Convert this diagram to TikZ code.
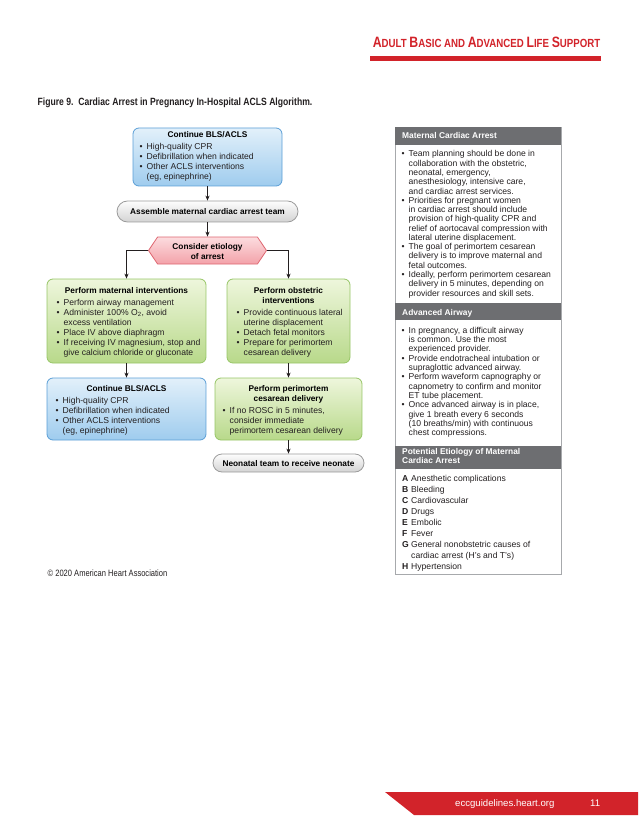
\documentclass[tikz,border=0pt]{standalone}
\usepackage{fontspec}
\setmainfont{Liberation Sans}
\newfontfamily\condf[FakeStretch=0.82]{Liberation Sans}
\usetikzlibrary{shapes.symbols,shapes.misc,arrows.meta,calc}

\definecolor{ahared}{HTML}{D2232A}
\definecolor{bluetop}{HTML}{E2F0FA}
\definecolor{bluebot}{HTML}{9FCCEE}
\definecolor{bluebd}{HTML}{5A9ED6}
\definecolor{greentop}{HTML}{EEF6DC}
\definecolor{greenbot}{HTML}{B8D98A}
\definecolor{greenbd}{HTML}{96C566}
\definecolor{graytop}{HTML}{FDFDFD}
\definecolor{graybot}{HTML}{D3D3D3}
\definecolor{graybd}{HTML}{9C9C9C}
\definecolor{pinktop}{HTML}{FCDCDF}
\definecolor{pinkbot}{HTML}{F3A2A9}
\definecolor{pinkbd}{HTML}{DE6670}
\definecolor{bandgray}{HTML}{6D6E71}
\definecolor{panelbd}{HTML}{A7A9AC}
\definecolor{txtdark}{HTML}{231F20}
\definecolor{linec}{HTML}{231F20}

\newcommand\bl[1]{\makebox[7pt][l]{\textbullet}#1\par}
\newcommand\cl[1]{\hspace*{7pt}#1\par}
\newcommand\lt[2]{\makebox[9pt][l]{\bfseries #1}#2\par}
\newcommand\bigc[1]{{\fontsize{15}{15}\selectfont #1}}
\newcommand\smc[1]{{\fontsize{11.8}{15}\selectfont #1}}

\tikzset{
  box/.style={draw, line width=0.8pt, rounded corners=6pt, inner sep=0pt},
  bluebox/.style={box, draw=bluebd, top color=bluetop, bottom color=bluebot},
  greenbox/.style={box, draw=greenbd, top color=greentop, bottom color=greenbot},
  pill/.style={draw=graybd, line width=0.8pt, rounded rectangle, top color=graytop, bottom color=graybot, inner sep=0pt},
  hexa/.style={signal, signal to=west and east, signal pointer angle=112, draw=pinkbd, line width=0.8pt, top color=pinktop, bottom color=pinkbot, inner sep=0pt},
  ttl/.style={inner sep=0pt, anchor=base, font=\fontsize{8.3}{10}\selectfont\bfseries, text=black},
  bultxt/.style={inner sep=0pt, anchor=base west, font=\fontsize{8.6}{10}\selectfont, text=txtdark},
  paneltxt/.style={inner sep=0pt, anchor=base west, text=txtdark},
  band/.style={fill=bandgray, inner sep=0pt, anchor=north west, minimum width=166pt},
  bandtxt/.style={inner sep=0pt, anchor=base west, font=\fontsize{8.4}{9}\selectfont\bfseries, text=white},
  arr/.style={draw=linec, line width=0.8pt, -{Stealth[length=5pt,width=4.2pt]}},
}

\begin{document}
\begin{tikzpicture}[x=1pt,y=-1pt]
\useasboundingbox (0,0) rectangle (638,826);

% page header
\node[anchor=base east, inner sep=0pt, text=ahared, font=\condf\bfseries\fontsize{11.8}{15}\selectfont] (hdr) at (600.5,48)
  {\bigc{A}\smc{DULT} \bigc{B}\smc{ASIC} \smc{AND} \bigc{A}\smc{DVANCED} \bigc{L}\smc{IFE} \bigc{S}\smc{UPPORT}};
\fill[ahared] (369.5,56) rectangle (600.5,61);

% figure title
\node[anchor=base west, inner sep=0pt, font=\condf\bfseries\fontsize{10.5}{12}\selectfont, text=txtdark] (fig) at (37.5,106)
  {Figure 9.\ \ Cardiac Arrest in Pregnancy In-Hospital ACLS Algorithm.};

% flowchart boxes
\node[bluebox, minimum width=149pt, minimum height=58pt] (b1) at (207.5,157) {};
\node[pill, minimum width=181pt, minimum height=21pt] (asm) at (207.5,211.5) {};
\node[hexa, minimum width=118pt, minimum height=27pt] (hex) at (207.5,250.5) {};
\node[greenbox, minimum width=159pt, minimum height=84pt] (g1) at (126.5,321) {};
\node[greenbox, minimum width=123pt, minimum height=84pt] (g2) at (288.5,321) {};
\node[bluebox, minimum width=159pt, minimum height=62pt] (b2) at (126.5,409) {};
\node[greenbox, minimum width=147pt, minimum height=62pt] (g3) at (288.5,409) {};
\node[pill, minimum width=151pt, minimum height=18pt] (neo) at (288.5,463) {};

% texts
\node[ttl] (b1t) at (207.5,138) {Continue BLS/ACLS};
\node[bultxt] (b1b) at (139.5,150) {\begin{minipage}[t]{200pt}
\bl{High-quality CPR}
\bl{Defibrillation when indicated}
\bl{Other ACLS interventions}
\cl{(eg, epinephrine)}
\end{minipage}};

\node[ttl] (asmt) at (207.5,214.5) {Assemble maternal cardiac arrest team};

\node[ttl] (hext) at (207.5,249) {\begin{minipage}[t]{120pt}\centering Consider etiology\\of arrest\end{minipage}};

\node[ttl] (g1t) at (126.5,293) {Perform maternal interventions};
\node[bultxt] (g1b) at (56.5,305) {\begin{minipage}[t]{200pt}
\bl{Perform airway management}
\bl{Administer 100\% O\textsubscript{2}, avoid}
\cl{excess ventilation}
\bl{Place IV above diaphragm}
\bl{If receiving IV magnesium, stop and}
\cl{give calcium chloride or gluconate}
\end{minipage}};

\node[ttl] (g2t) at (288.5,293) {\begin{minipage}[t]{120pt}\centering Perform obstetric\\interventions\end{minipage}};
\node[bultxt] (g2b) at (236.5,315) {\begin{minipage}[t]{200pt}
\bl{Provide continuous lateral}
\cl{uterine displacement}
\bl{Detach fetal monitors}
\bl{Prepare for perimortem}
\cl{cesarean delivery}
\end{minipage}};

\node[ttl] (b2t) at (126.5,391) {Continue BLS/ACLS};
\node[bultxt] (b2b) at (55.5,403) {\begin{minipage}[t]{200pt}
\bl{High-quality CPR}
\bl{Defibrillation when indicated}
\bl{Other ACLS interventions}
\cl{(eg, epinephrine)}
\end{minipage}};

\node[ttl] (g3t) at (288.5,391) {\begin{minipage}[t]{140pt}\centering Perform perimortem\\cesarean delivery\end{minipage}};
\node[bultxt] (g3b) at (222.5,413) {\begin{minipage}[t]{200pt}
\bl{If no ROSC in 5 minutes,}
\cl{consider immediate}
\cl{perimortem cesarean delivery}
\end{minipage}};

\node[ttl] (neot) at (288.5,466) {Neonatal team to receive neonate};

% connectors
\draw[arr] (b1) -- (asm);
\draw[arr] (asm) -- (hex);
\draw[arr] (hex.west) -| (g1.north);
\draw[arr] (hex.east) -| (g2.north);
\draw[arr] (g1) -- (b2);
\draw[arr] (g2) -- (g3);
\draw[arr] (g3) -- (neo);

% right panel
\node[draw=panelbd, line width=0.7pt, anchor=north west, minimum width=166pt, minimum height=447pt, inner sep=0pt] (panel) at (395,127) {};
\node[band, minimum height=17.5pt] (band1) at (395,127) {};
\node[band, minimum height=17pt] (band2) at (395,302.5) {};
\node[band, minimum height=23pt] (band3) at (395,445.5) {};
\node[bandtxt] (band1t) at (402,139) {Maternal Cardiac Arrest};
\node[bandtxt] (band2t) at (402,315) {Advanced Airway};
\node[bandtxt] (band3t) at (402,454.5) {\begin{minipage}[t]{160pt}Potential Etiology of Maternal\\Cardiac Arrest\end{minipage}};

\node[paneltxt, font=\fontsize{8.6}{9.27}\selectfont] (sec1) at (401.5,157) {\begin{minipage}[t]{200pt}
\bl{Team planning should be done in}
\cl{collaboration with the obstetric,}
\cl{neonatal, emergency,}
\cl{anesthesiology, intensive care,}
\cl{and cardiac arrest services.}
\bl{Priorities for pregnant women}
\cl{in cardiac arrest should include}
\cl{provision of high-quality CPR and}
\cl{relief of aortocaval compression with}
\cl{lateral uterine displacement.}
\bl{The goal of perimortem cesarean}
\cl{delivery is to improve maternal and}
\cl{fetal outcomes.}
\bl{Ideally, perform perimortem cesarean}
\cl{delivery in 5 minutes, depending on}
\cl{provider resources and skill sets.}
\end{minipage}};

\node[paneltxt, font=\fontsize{8.6}{9.36}\selectfont] (sec2) at (401.5,333) {\begin{minipage}[t]{200pt}
\bl{In pregnancy, a difficult airway}
\cl{is common. Use the most}
\cl{experienced provider.}
\bl{Provide endotracheal intubation or}
\cl{supraglottic advanced airway.}
\bl{Perform waveform capnography or}
\cl{capnometry to confirm and monitor}
\cl{ET tube placement.}
\bl{Once advanced airway is in place,}
\cl{give 1 breath every 6 seconds}
\cl{(10 breaths/min) with continuous}
\cl{chest compressions.}
\end{minipage}};

\node[paneltxt, font=\fontsize{8.6}{11}\selectfont] (sec3) at (402,481) {\begin{minipage}[t]{200pt}
\lt{A}{Anesthetic complications}
\lt{B}{Bleeding}
\lt{C}{Cardiovascular}
\lt{D}{Drugs}
\lt{E}{Embolic}
\lt{F}{Fever}
\lt{G}{General nonobstetric causes of}
\hspace*{9pt}cardiac arrest (H’s and T’s)\par
\lt{H}{Hypertension}
\end{minipage}};

% copyright
\node[anchor=base west, inner sep=0pt, font=\condf\fontsize{9.2}{10}\selectfont, text=txtdark] (copy) at (47.5,576) {© 2020 American Heart Association};

% footer
\fill[ahared] (385,792) -- (638,792) -- (638,815) -- (414,815) -- cycle;
\node[anchor=base west, inner sep=0pt, font=\fontsize{9.6}{10}\selectfont, text=white] (url) at (455,806) {eccguidelines.heart.org};
\node[anchor=base west, inner sep=0pt, font=\fontsize{9.6}{10}\selectfont, text=white] (pg) at (590,806) {11};
\end{tikzpicture}
\end{document}
